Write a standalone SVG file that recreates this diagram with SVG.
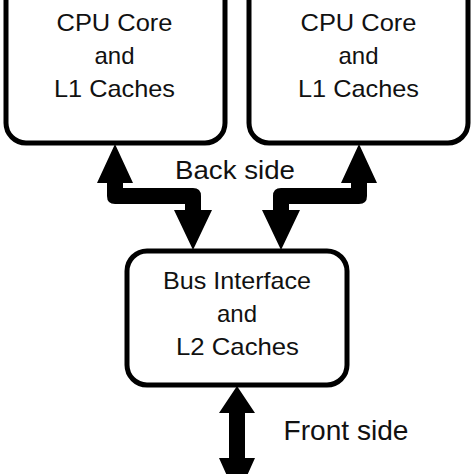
<svg xmlns="http://www.w3.org/2000/svg" xmlns:xlink="http://www.w3.org/1999/xlink" width="474" height="474" viewBox="0 0 474 474">
  <style>
    .box { fill: #ffffff; stroke: #000000; stroke-width: 5; }
    .lbl { font-family: "Liberation Sans", Arial, sans-serif; font-size: 24px; fill: #111111; text-anchor: middle; }
    .side { font-family: "Liberation Sans", Arial, sans-serif; fill: #111111; text-anchor: middle; }
    .arrow { fill: #000000; stroke: none; }
  </style>
  <defs>
    <path id="backArrow" d="M115,144 L133,183 L123,183 L123,188 L193,188 Q201,188 201,196 L201,210 L212,210 L193,250 L174,210 L185,210 L185,204 L115,204 Q107,204 107,196 L107,183 L97,183 Z"/>
  </defs>
  <rect width="474" height="474" fill="#ffffff"/>

  <g id="connectors">
    <use xlink:href="#backArrow" href="#backArrow" class="arrow"/>
    <use xlink:href="#backArrow" href="#backArrow" class="arrow" transform="translate(474,0) scale(-1,1)"/>
    <path class="arrow" d="M237,386 L255,413 L245,413 L245,458 L255,458 L237,498 L219,458 L229,458 L229,413 L219,413 Z"/>
    <text class="side" x="235" y="179" font-size="26" textLength="120" lengthAdjust="spacingAndGlyphs">Back side</text>
    <text class="side" x="346" y="440" font-size="28" textLength="125" lengthAdjust="spacingAndGlyphs">Front side</text>
  </g>

  <g id="cpu-left">
    <rect class="box" x="6" y="-40" width="219" height="183" rx="20" ry="20"/>
    <text class="lbl" x="114.5" y="31" textLength="116" lengthAdjust="spacingAndGlyphs">CPU Core</text>
    <text class="lbl" x="114.5" y="64" textLength="40" lengthAdjust="spacingAndGlyphs">and</text>
    <text class="lbl" x="114.5" y="97" textLength="121" lengthAdjust="spacingAndGlyphs">L1 Caches</text>
  </g>

  <g id="cpu-right">
    <rect class="box" x="249" y="-40" width="219" height="183" rx="20" ry="20"/>
    <text class="lbl" x="358.5" y="31" textLength="116" lengthAdjust="spacingAndGlyphs">CPU Core</text>
    <text class="lbl" x="358.5" y="64" textLength="40" lengthAdjust="spacingAndGlyphs">and</text>
    <text class="lbl" x="358.5" y="97" textLength="121" lengthAdjust="spacingAndGlyphs">L1 Caches</text>
  </g>

  <g id="bus">
    <rect class="box" x="127" y="251" width="220" height="134" rx="20" ry="20"/>
    <text class="lbl" x="237" y="289" textLength="148" lengthAdjust="spacingAndGlyphs">Bus Interface</text>
    <text class="lbl" x="237" y="322" textLength="40" lengthAdjust="spacingAndGlyphs">and</text>
    <text class="lbl" x="237.5" y="355" textLength="123" lengthAdjust="spacingAndGlyphs">L2 Caches</text>
  </g>
</svg>
